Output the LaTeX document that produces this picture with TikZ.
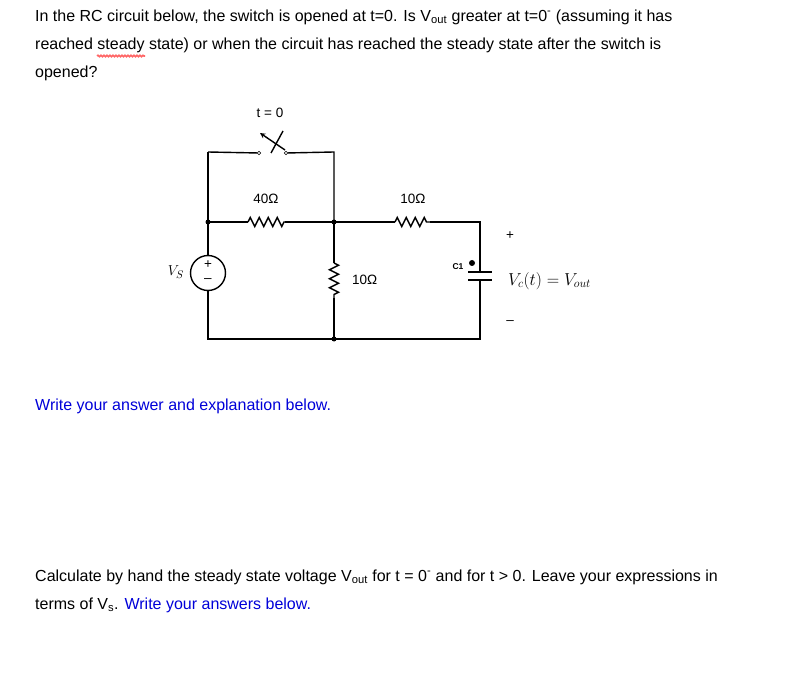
\documentclass[tikz,border=0pt]{standalone}
\usepackage{fontspec}
\setmainfont{Liberation Sans}
\usetikzlibrary{decorations.pathmorphing}
\begin{document}
\begin{tikzpicture}[x=1pt,y=-1pt,
  txt/.style={anchor=west,inner sep=0,font=\fontsize{16}{19}\selectfont},
  lbl/.style={inner sep=0,font=\fontsize{13.5}{15}\selectfont},
  wire/.style={line width=1.4pt},
  zig/.style={wire,decorate,decoration={zigzag,segment length=9pt,amplitude=4.5pt}},
  dot/.style={circle,fill,inner sep=0,minimum size=5pt}]
\useasboundingbox[fill=white] (0,0) rectangle (789,684);
\node[txt] (l1) at (35,17) {In the RC circuit below, the switch is opened at t=0. Is V\textsubscript{out} greater at t=0\textsuperscript{-} (assuming it has};
\node[txt] (l2) at (35,45) {reached steady state) or when the circuit has reached the steady state after the switch is};
\node[txt] (l3) at (35,73) {opened?};
\draw[red!60,line width=1.6pt,decorate,decoration={snake,amplitude=0.7pt,segment length=3pt}] (97,56) -- (145,56);
\node[txt,text=blue!85!black] (w) at (35,406) {Write your answer and explanation below.};
\node[txt] (c1) at (35,577) {Calculate by hand the steady state voltage V\textsubscript{out} for t = 0\textsuperscript{-} and for t > 0. Leave your expressions in};
\node[txt] (c2) at (35,605) {terms of V\textsubscript{s}. \textcolor{blue!85!black}{Write your answers below.}};
% circuit
\coordinate (tl) at (208,152); \coordinate (tr) at (334,152);
\coordinate (ml) at (208,222); \coordinate (mm) at (334,222); \coordinate (mr) at (480,222);
\coordinate (bl) at (208,339); \coordinate (bm) at (334,339); \coordinate (br) at (480,339);
\node[circle,draw,wire,minimum size=35pt,inner sep=0] (vs) at (208,273) {};
\node[lbl] at (208,265) {+}; \node[lbl] at (208,281) {--};
\node[lbl,font=\fontsize{15}{17}\selectfont] at (176,272) {$V_S$};
\node[circle,draw,inner sep=0,minimum size=3.5pt] (s1) at (259,153) {};
\node[circle,draw,inner sep=0,minimum size=3.5pt] (s2) at (286,153) {};
\draw[wire] (tl) -- (s1);
\draw[wire] (vs.north) -- (ml) -- (tl);
\draw[wire] (s2) -- (tr) -- (mm);
\draw[wire] (271,153) -- (283,131);
\draw[wire,->,>=stealth] (285,150) -- (260,133);
\node[lbl] at (270,113) {t = 0};
\draw[wire] (ml) -- (248,222);
\draw[zig] (248,222) -- (285,222);
\draw[wire] (285,222) -- (mm) -- (395,222);
\draw[zig] (395,222) -- (430,222);
\draw[wire] (430,222) -- (mr) -- (480,272);
\node[lbl] at (266,199) {40Ω}; \node[lbl] at (413,199) {10Ω};
\draw[wire] (mm) -- (334,263);
\draw[zig] (334,263) -- (334,298);
\draw[wire] (334,298) -- (bm);
\node[lbl,anchor=west] at (352,280) {10Ω};
\draw[wire] (468,272) -- (492,272); \draw[wire] (468,280) -- (492,280);
\draw[wire] (480,280) -- (br) -- (bl) -- (vs.south);
\node[dot,minimum size=6pt] at (472,263) {};
\node[lbl,font=\bfseries\fontsize{8.5}{10}\selectfont] at (458,267) {C1};
\node[dot] at (ml) {}; \node[dot] at (mm) {}; \node[dot] at (bm) {};
\node[lbl] at (510,236) {+}; \node[lbl] at (510,323) {--};
\node[lbl,anchor=west,font=\fontsize{17}{19}\selectfont] at (508,281) {$V_c(t)=V_{out}$};
\end{tikzpicture}
\end{document}
